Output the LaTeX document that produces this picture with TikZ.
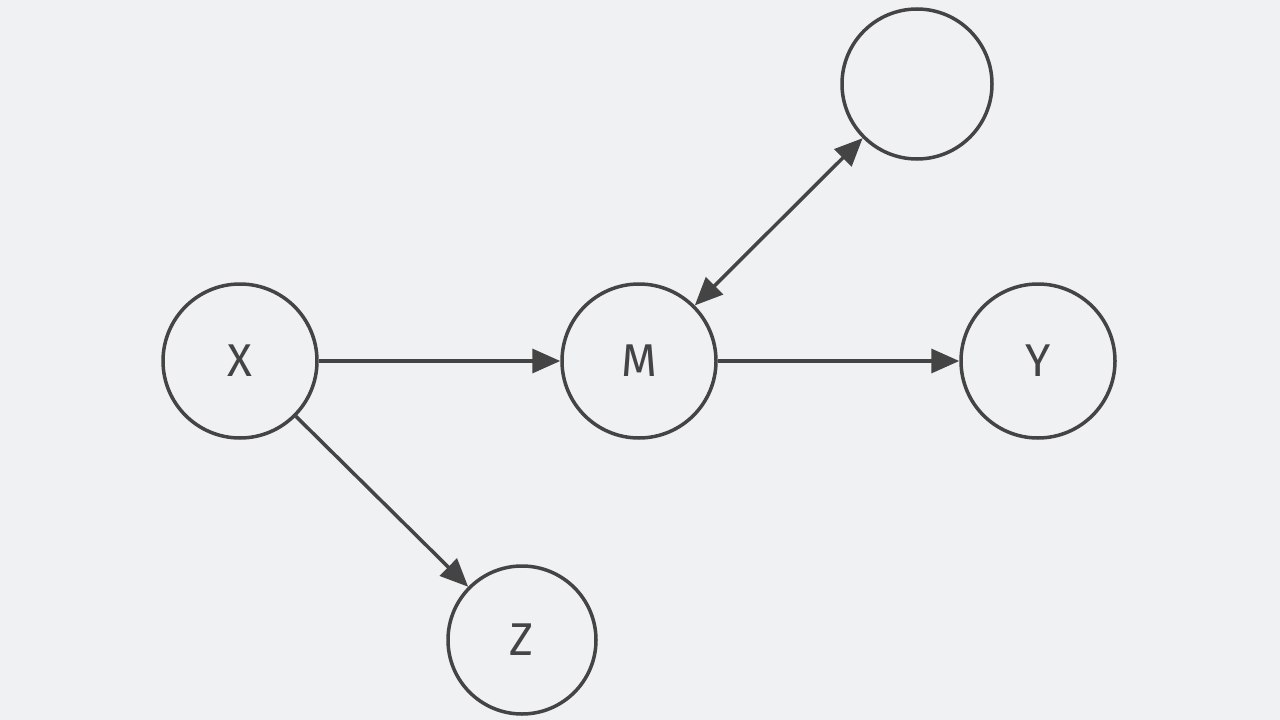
\documentclass[tikz,border=0pt]{standalone}
\usepackage{fontspec}
\setmainfont{Fira Sans}
\usetikzlibrary{arrows.meta}
\definecolor{bg}{HTML}{F0F1F2}
\definecolor{ln}{HTML}{444444}
\begin{document}
\begin{tikzpicture}[x=1pt,y=-1pt,
  vnode/.style={circle,draw=ln,line width=3.5pt,minimum size=154pt,inner sep=0pt,font=\fontsize{46}{50}\selectfont,text=ln},
  conn/.style={draw=ln,line width=3.5pt,-{Triangle[length=28pt,width=24pt]}}]
\fill[bg] (0,0) rectangle (1280,720);
\useasboundingbox (0,0) rectangle (1280,720);
\node[vnode] (X) at (240,361) {X};
\node[vnode] (M) at (639,361) {M};
\node[vnode] (Y) at (1038,361) {Y};
\node[vnode,minimum size=150pt] (T) at (917,84) {};
\node[vnode,minimum size=148pt] (Z) at (522,640) {Z};
\draw[conn] (X) -- (M);
\draw[conn] (M) -- (Y);
\draw[conn] (X) -- (Z);
\draw[conn,{Triangle[length=28pt,width=24pt]}-{Triangle[length=28pt,width=24pt]}] (M) -- (T);
\end{tikzpicture}
\end{document}
